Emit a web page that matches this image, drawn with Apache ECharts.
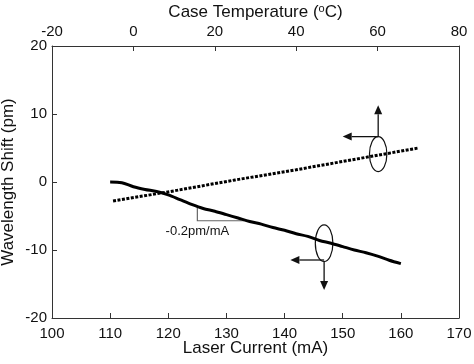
<!DOCTYPE html>
<html>
<head>
<meta charset="utf-8">
<script src="https://cdn.jsdelivr.net/npm/echarts@6/dist/echarts.min.js"></script>
<style>html,body{margin:0;padding:0;background:#fff}#c{width:474px;height:364px}</style>
</head>
<body>
<div id="c"></div>
<script>
// Laser current (mA) vs wavelength shift (pm) — solid curve
const currentMA = [110,112,114,116,118,120,122,124,126,128,130,132,134,136,138,140,142,144,146,148,150,152,154,156,158,160];
const shiftVsCurrent = [0,-0.1,-0.7,-1.1,-1.4,-1.9,-2.6,-3.3,-3.9,-4.3,-4.8,-5.3,-5.8,-6.2,-6.7,-7.1,-7.6,-8.0,-8.6,-9.0,-9.5,-10.0,-10.4,-10.9,-11.5,-12.0];
// Case temperature (°C) vs wavelength shift (pm) — dotted line
const caseTempC = [-5,10,25,40,55,70];
const shiftVsTemp = [-2.8,-1.3,0.3,1.8,3.4,5.0];
// Axis ranges / ticks
const currentTicks = [100,170,10];
const tempTicks = [-20,80,20];
const shiftTicks = [-20,20,10];
const slopeLabel = '-0.2pm/mA';

const FONT = '"Liberation Sans", Arial, sans-serif';
const chart = echarts.init(document.getElementById('c'), null, {renderer:'canvas'});
const axisLine = {show:true, onZero:false, lineStyle:{color:'#333', width:1}};
const tick = {show:true, inside:true, length:5, lineStyle:{color:'#333'}};
const lbl = {color:'#111', fontSize:15, fontFamily:FONT};
const TS = 17;

chart.setOption({
  animation:false,
  backgroundColor:'#fff',
  grid:{left:52, right:15, top:46, bottom:46, containLabel:false, outerBoundsMode:'none'},
  xAxis:[
    {type:'value', position:'bottom', min:currentTicks[0], max:currentTicks[1], interval:currentTicks[2],
     axisLine, axisTick:tick, splitLine:{show:false}, axisLabel:{...lbl, margin:8},
     name:'Laser Current (mA)', nameLocation:'middle', nameGap:22, nameMoveOverlap:false,
     nameTextStyle:{color:'#111', fontSize:TS, fontFamily:FONT}},
    {type:'value', position:'top', min:tempTicks[0], max:tempTicks[1], interval:tempTicks[2],
     axisLine, axisTick:tick, splitLine:{show:false}, axisLabel:{...lbl, margin:7},
     name:'{a|Case Temperature (}{s|o}{a|C)}', nameLocation:'middle', nameGap:24, nameMoveOverlap:false,
     nameTextStyle:{rich:{a:{color:'#111', fontSize:TS, fontFamily:FONT}, s:{color:'#111', fontSize:11, fontFamily:FONT, verticalAlign:'top', padding:[0,0,8,0]}}}}
  ],
  yAxis:[
    {type:'value', min:shiftTicks[0], max:shiftTicks[1], interval:shiftTicks[2],
     axisLine, axisTick:tick, splitLine:{show:false}, axisLabel:{...lbl, margin:5},
     name:'Wavelength Shift (pm)', nameLocation:'middle', nameGap:35, nameMoveOverlap:false,
     nameTextStyle:{color:'#111', fontSize:TS, fontFamily:FONT}},
    {type:'value', position:'right', min:shiftTicks[0], max:shiftTicks[1], interval:shiftTicks[2],
     axisLine, axisTick:{show:false}, axisLabel:{show:false}, splitLine:{show:false}}
  ],
  series:[
    {type:'line', xAxisIndex:0, yAxisIndex:0, symbol:'none', smooth:0.3,
     data:currentMA.map((x,i)=>[x, shiftVsCurrent[i]]),
     lineStyle:{color:'#000', width:3}},
    {type:'line', xAxisIndex:1, yAxisIndex:0, symbol:'none',
     data:caseTempC.map((x,i)=>[x, shiftVsTemp[i]]),
     lineStyle:{color:'#000', width:3, type:[3,1.5]}}
  ]
});

function px(x,y){ return chart.convertToPixel({xAxisIndex:0, yAxisIndex:0}, [x,y]); }
function arrow(p0, p1){
  const dx=p1[0]-p0[0], dy=p1[1]-p0[1], L=Math.hypot(dx,dy), ux=dx/L, uy=dy/L;
  const hl=9, hw=4;
  const b=[p1[0]-ux*hl, p1[1]-uy*hl];
  return [
    {type:'line', shape:{x1:p0[0],y1:p0[1],x2:b[0],y2:b[1]}, style:{stroke:'#111', lineWidth:1.3}},
    {type:'polygon', shape:{points:[p1,[b[0]-uy*hw,b[1]+ux*hw],[b[0]+uy*hw,b[1]-ux*hw]]}, style:{fill:'#111'}}
  ];
}
const g=[];
// Ellipse 1 on the temperature line
const e1=px(156.1,4.1);
g.push({type:'ellipse', shape:{cx:e1[0], cy:e1[1], rx:8.7, ry:17.5}, style:{fill:'none', stroke:'#111', lineWidth:1.2}});
const t1=[e1[0], e1[1]-17.5];
g.push(...arrow(t1, [t1[0], px(156.1,11.3)[1]]));
g.push(...arrow(t1, [px(150.0,0)[0], t1[1]]));
// Ellipse 2 on the current line
const e2=px(146.8,-9.0);
g.push({type:'ellipse', shape:{cx:e2[0], cy:e2[1], rx:8.8, ry:18.3}, style:{fill:'none', stroke:'#111', lineWidth:1.2}});
const b2=[e2[0], e2[1]+18.3];
g.push(...arrow(b2, [b2[0], px(146.8,-15.9)[1]]));
g.push(...arrow([b2[0], b2[1]-1.5], [px(141.0,0)[0], b2[1]-1.5]));
// Slope bracket
const s0=px(125,-3.5), s1=px(125,-5.7), s2=px(133,-5.7);
g.push({type:'polyline', shape:{points:[s0,s1,s2]}, style:{stroke:'#666', lineWidth:1.2, fill:'none'}});
g.push({type:'text', x:s1[0], y:s1[1]+11, style:{text:slopeLabel, fill:'#111', font:'13px '+FONT, textAlign:'center', textVerticalAlign:'middle'}});
chart.setOption({graphic:g});
</script>
</body>
</html>
